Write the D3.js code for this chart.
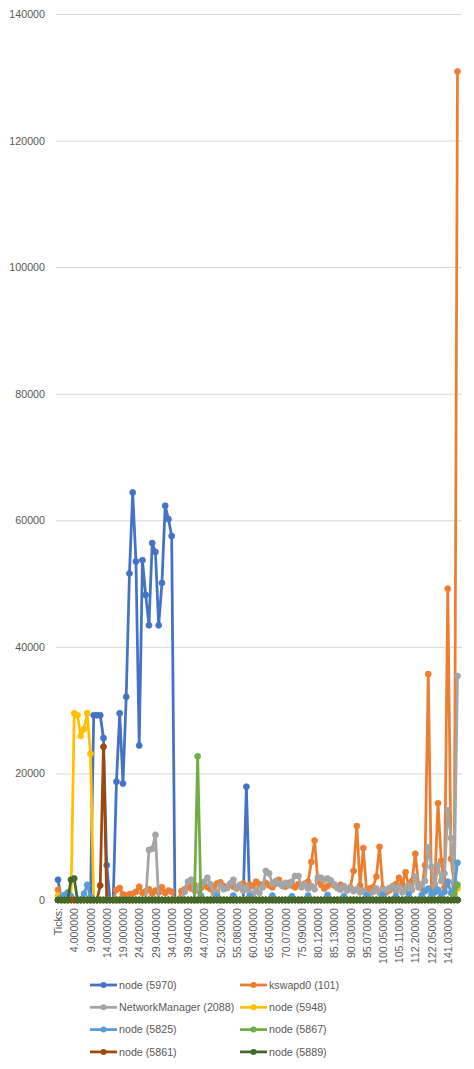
<!DOCTYPE html>
<html>
  <head>
    <script type="text/javascript" src="https://cdn.jsdelivr.net/npm/d3@7"></script>
    <style>
      body { margin: 0; background: #fff; }
      text { font-family: "Liberation Sans", Arial, sans-serif; fill: #595959; }
    </style>
  </head>
  <body>
    <script type="text/javascript">
      // x categories (every 5th one gets a label)
      const categories = [
        "Ticks:",
        "0.000000","1.000000","2.000000","3.000000","4.000000","5.000000","6.000000","7.000000","8.000000","9.000000",
        "10.000000","11.000000","12.000000","13.000000","14.000000","15.000000","16.000000","17.000000","18.000000","19.000000",
        "20.000000","21.000000","22.010000","23.010000","24.020000","25.020000","26.030000","27.030000","28.040000","29.040000",
        "30.000000","31.000000","32.000000","33.010000","34.010000","35.020000","36.020000","37.030000","38.030000","39.040000",
        "40.040000","41.050000","42.050000","43.060000","44.070000","45.080000","46.090000","47.100000","48.120000","50.230000",
        "51.040000","52.050000","53.060000","54.070000","55.080000","56.000000","57.010000","58.020000","59.030000","60.040000",
        "61.040000","62.030000","63.030000","64.040000","65.040000","66.050000","67.050000","68.060000","69.060000","70.070000",
        "71.070000","72.080000","73.080000","74.090000","75.090000","76.100000","77.100000","78.110000","79.110000","80.120000",
        "81.120000","82.130000","83.130000","84.130000","85.130000","86.000000","87.010000","88.020000","89.020000","90.030000",
        "91.030000","92.040000","93.050000","94.060000","95.070000","96.080000","97.030000","98.040000","99.040000","100.050000",
        "101.060000","102.070000","103.080000","104.100000","105.110000","106.400000","107.700000","109.000000","110.600000","112.200000",
        "114.100000","116.000000","118.000000","120.100000","122.050000","125.300000","128.600000","132.300000","136.400000","141.030000",
        "145.800000","150.900000","156.400000"
      ];

      const yTicks = [0, 20000, 40000, 60000, 80000, 100000, 120000, 140000];

      const seriesNames = [
        "node (5970)", "kswapd0 (101)", "NetworkManager (2088)", "node (5948)",
        "node (5825)", "node (5867)", "node (5861)", "node (5889)"
      ];
      const seriesColors = [
        "#4472C4", "#ED7D31", "#A5A5A5", "#FFC000",
        "#5B9BD5", "#70AD47", "#9E480E", "#43682B"
      ];

      const node5970 = [
        3200,0,0,0,0,0,0,0,0,0,
        0,29200,29200,29200,25600,5500,0,0,18700,29500,
        18400,32100,51600,64400,53500,24400,53700,48200,43400,56400,
        55000,43400,50100,62300,60200,57500,0,0,0,0,
        0,0,0,0,0,0,0,0,0,0,
        0,0,0,0,0,0,0,0,17900,0,
        0,0,0,0,0,0,0,0,0,0,
        0,0,0,0,0,0,0,0,0,0,
        0,0,0,0,0,0,0,0,0,0,
        0,0,0,0,0,0,0,0,0,0,
        0,0,0,0,0,0,0,0,0,0,
        0,0,0,0,0,0,0,0,0,0,
        0,0,0,0
      ];
      const kswapd0 = [
        1600,0,0,0,0,0,0,0,0,0,
        0,0,0,0,0,0,0,0,1600,1900,
        900,700,900,1000,1300,2100,1100,1400,1700,1000,
        1500,1200,2000,1100,1500,1300,0,0,1400,1700,
        2200,1800,2400,1500,1900,2300,2000,1700,2100,2600,
        2800,2200,1900,2500,2100,1800,2300,2600,1900,2400,
        2200,2900,2500,2100,2700,2300,2000,2600,3200,2400,
        2100,2700,2300,2000,2500,2200,2600,2900,6000,9400,
        3000,2400,1800,2200,2700,2300,1900,2400,2100,1700,
        2000,4600,11700,2300,8200,1500,1800,2000,3700,8400,
        1800,1200,1500,2000,2500,3500,2500,4400,2200,3000,
        7300,2500,1800,5500,35700,1500,2500,15300,6200,2000,
        49200,6500,2500,130900
      ];
      const networkManager = [
        0,0,0,0,0,0,0,0,0,0,
        0,0,0,0,0,0,0,0,0,0,
        0,0,0,0,0,0,0,0,7900,8100,
        10300,0,0,0,0,0,0,0,0,1300,
        2900,3200,1500,1800,2400,2900,3500,2500,1000,1200,
        2300,1700,1900,2600,3200,1900,2400,1500,2000,1200,
        900,1600,1100,2000,4600,4200,2600,3000,2600,2200,
        2700,2300,2900,3800,3800,2000,2500,1800,2200,1700,
        3600,3500,3200,3400,3100,2500,2000,1600,2200,1500,
        1900,1400,1700,1200,1500,1000,900,1300,1800,1100,
        1600,1500,1900,2200,1400,2000,1200,1700,2300,1600,
        3700,2000,2400,3000,8300,5200,2200,5500,3000,4200,
        14200,9800,3000,35400
      ];
      const node5948 = [
        700,300,0,0,0,29500,29200,25900,27000,29500,
        23100,0,0,0,0,0,0,0,0,0,
        0,0,0,0,0,0,0,0,0,0,
        0,0,0,0,0,0,0,0,0,0,
        0,0,0,0,0,0,0,0,0,0,
        0,0,0,0,0,0,0,0,0,0,
        0,0,0,0,0,0,0,0,0,0,
        0,0,0,0,0,0,0,0,0,0,
        0,0,0,0,0,0,0,0,0,0,
        0,0,0,0,0,0,0,0,0,0,
        0,0,0,0,0,0,0,0,0,0,
        0,0,0,0,0,0,0,0,0,0,
        0,0,0,1800
      ];
      const node5825 = [
        0,400,800,1200,600,0,0,0,1000,2400,
        500,0,0,0,0,0,0,0,0,0,
        0,0,0,0,0,0,0,0,0,0,
        0,0,0,0,0,0,0,0,0,0,
        0,0,0,0,700,0,0,0,0,600,
        0,0,0,0,700,0,0,0,0,600,
        0,0,0,0,0,0,700,0,0,0,
        0,0,600,0,0,0,0,700,0,0,
        0,0,0,800,0,0,0,0,600,0,
        0,0,0,0,0,700,0,0,0,0,
        800,0,0,0,600,0,0,0,900,0,
        0,0,800,1400,1800,900,1200,1600,800,1300,
        2900,1100,1700,5900
      ];
      const node5867 = [
        0,0,0,0,0,0,0,0,0,0,
        0,0,0,0,0,0,0,0,0,0,
        0,0,0,0,0,0,0,0,0,0,
        0,0,0,0,0,0,0,0,0,0,
        0,0,0,22700,0,0,0,0,0,0,
        0,0,0,0,0,0,0,0,0,0,
        0,0,0,0,0,0,0,0,0,0,
        0,0,0,0,0,0,0,0,0,0,
        0,0,0,0,0,0,0,0,0,0,
        0,0,0,0,0,0,0,0,0,0,
        0,0,0,0,0,0,0,0,0,0,
        0,0,0,0,0,0,0,0,0,0,
        0,0,900,2400
      ];
      const node5861 = [
        0,0,0,0,0,0,0,0,0,0,
        0,0,0,2300,24200,0,0,0,0,0,
        0,0,0,0,0,0,0,0,0,0,
        0,0,0,0,0,0,0,0,0,0,
        0,0,0,0,0,0,0,0,0,0,
        0,0,0,0,0,0,0,0,0,0,
        0,0,0,0,0,0,0,0,0,0,
        0,0,0,0,0,0,0,0,0,0,
        0,0,0,0,0,0,0,0,0,0,
        0,0,0,0,0,0,0,0,0,0,
        0,0,0,0,0,0,0,0,0,0,
        0,0,0,0,0,0,0,0,0,0,
        0,0,0,0
      ];
      const node5889 = [
        0,0,0,0,3200,3400,0,0,0,0,
        0,0,0,0,0,0,0,0,0,0,
        0,0,0,0,0,0,0,0,0,0,
        0,0,0,0,0,0,0,0,0,0,
        0,0,0,0,0,0,0,0,0,0,
        0,0,0,0,0,0,0,0,0,0,
        0,0,0,0,0,0,0,0,0,0,
        0,0,0,0,0,0,0,0,0,0,
        0,0,0,0,0,0,0,0,0,0,
        0,0,0,0,0,0,0,0,0,0,
        0,0,0,0,0,0,0,0,0,0,
        0,0,0,0,0,0,0,0,0,0,
        0,0,0,0
      ];

      const seriesValues = [node5970, kswapd0, networkManager, node5948,
                            node5825, node5867, node5861, node5889];

      const margin = { top: 14, right: 12, bottom: 169, left: 56 };
      const W = 474, H = 1069;
      const w = W - margin.left - margin.right;
      const h = H - margin.top - margin.bottom;

      const root = d3.select("body").append("svg")
        .attr("width", W)
        .attr("height", H);

      const svg = root.append("g")
        .attr("transform", "translate(" + margin.left + "," + margin.top + ")");

      const yScale = d3.scaleLinear().domain([0, 140000]).range([h, 0]);
      const xScale = d3.scalePoint().domain(d3.range(categories.length)).range([2, 401.5]);

      // gridlines + y labels
      const yAxis = d3.axisLeft(yScale)
        .tickValues(yTicks)
        .tickSize(-w)
        .tickPadding(11)
        .tickFormat(d3.format("d"));
      const gy = svg.append("g").attr("class", "y-axis").call(yAxis);
      gy.select(".domain").remove();
      gy.selectAll("line").attr("stroke", "#D9D9D9").attr("stroke-width", 1);
      gy.selectAll("text").attr("font-size", "10.7px").attr("fill", "#595959");

      // category axis, labels rotated
      const xAxis = d3.axisBottom(xScale)
        .tickValues(d3.range(categories.length).filter(function (i) { return i % 5 === 0; }))
        .tickSize(0)
        .tickPadding(0)
        .tickFormat(function (i) { return categories[i]; });
      const gx = svg.append("g")
        .attr("class", "x-axis")
        .attr("transform", "translate(0," + h + ")")
        .call(xAxis);
      gx.select(".domain").attr("stroke", "#D9D9D9").attr("d", "M-2,0H" + (w + 2));
      gx.selectAll("text")
        .attr("font-size", "10.6px")
        .attr("fill", "#595959")
        .attr("text-anchor", "end")
        .attr("transform", "rotate(-90)")
        .attr("x", -8)
        .attr("y", 0)
        .attr("dy", "0.35em");

      const line = d3.line()
        .x(function (d, i) { return xScale(i); })
        .y(function (d) { return yScale(d); });

      seriesValues.forEach(function (vals, s) {
        const g = svg.append("g").attr("class", "series");
        g.append("path")
          .attr("d", line(vals))
          .attr("fill", "none")
          .attr("stroke", seriesColors[s])
          .attr("stroke-width", 2.75)
          .attr("stroke-linejoin", "round");
        g.selectAll("circle")
          .data(vals)
          .enter()
          .append("circle")
          .attr("cx", function (d, i) { return xScale(i); })
          .attr("cy", function (d) { return yScale(d); })
          .attr("r", 3)
          .attr("fill", seriesColors[s])
          .attr("stroke", seriesColors[s])
          .attr("stroke-width", 0.75);
      });

      // legend, two columns
      const legend = root.append("g").attr("class", "legend");
      const colX = [90, 240];
      const rowY = [985, 1007.3, 1029.6, 1051.9];
      seriesNames.forEach(function (name, i) {
        const lx = colX[i % 2];
        const ly = rowY[Math.floor(i / 2)];
        const item = legend.append("g").attr("transform", "translate(" + lx + "," + ly + ")");
        item.append("line")
          .attr("x1", 0).attr("x2", 27)
          .attr("y1", 0).attr("y2", 0)
          .attr("stroke", seriesColors[i])
          .attr("stroke-width", 2.75);
        item.append("circle")
          .attr("cx", 13.5).attr("cy", 0).attr("r", 3)
          .attr("fill", seriesColors[i]);
        item.append("text")
          .attr("x", 29)
          .attr("y", 0)
          .attr("dy", "0.35em")
          .attr("font-size", "10.7px")
          .text(name);
      });
    </script>
  </body>
</html>
